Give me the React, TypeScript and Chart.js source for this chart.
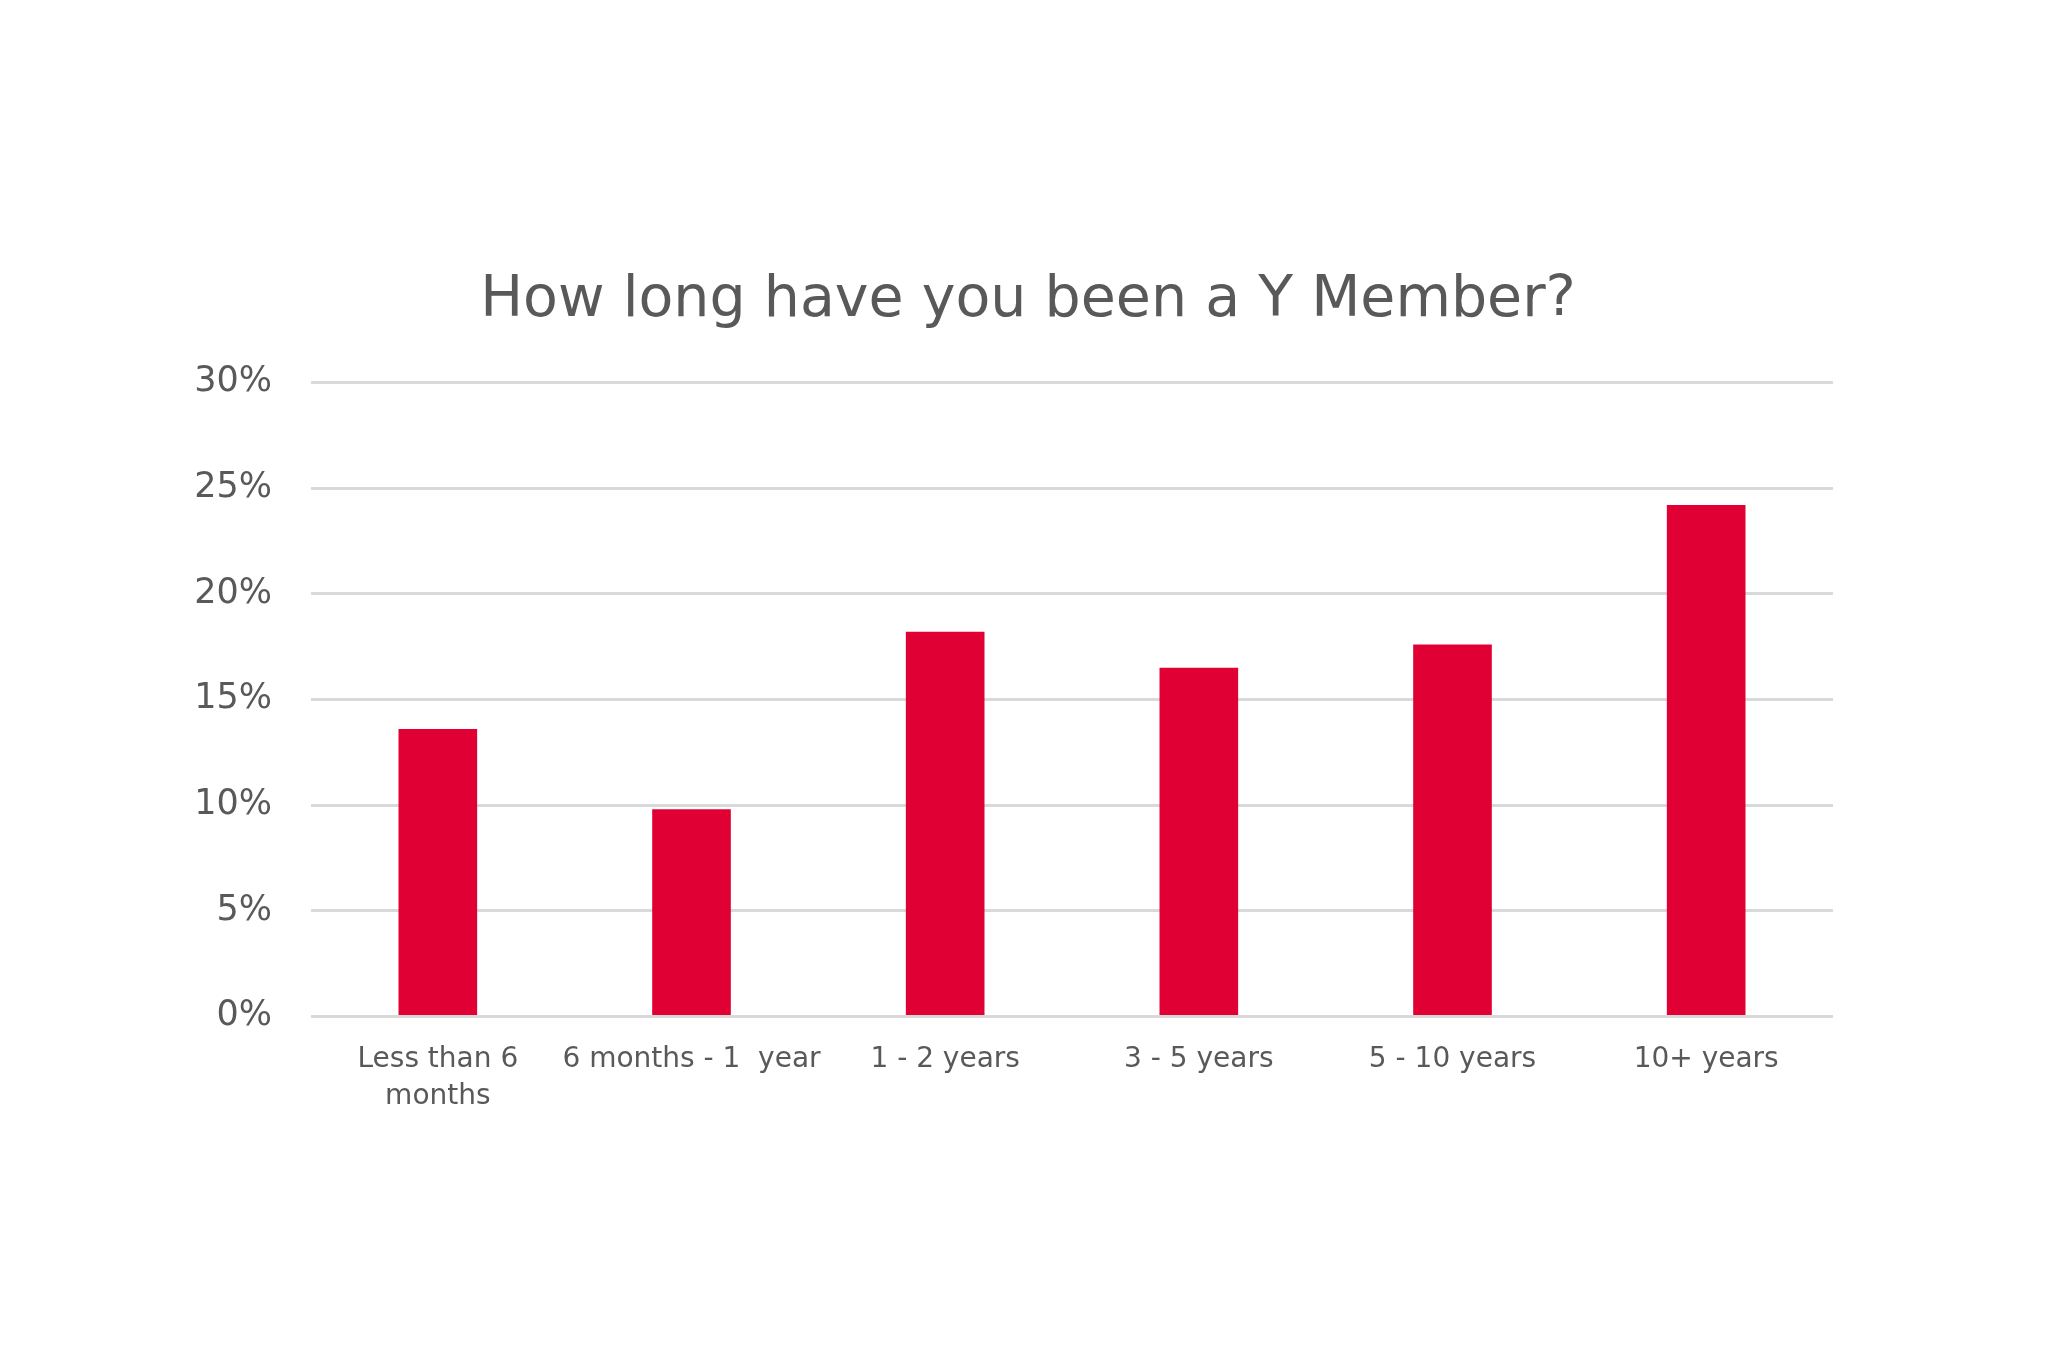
import React, { useEffect, useRef } from 'react';
import { Chart, registerables } from 'chart.js';

Chart.register(...registerables);

const categories: (string | string[])[] = [
  ['Less than 6', 'months'],
  '6 months - 1  year',
  '1 - 2 years',
  '3 - 5 years',
  '5 - 10 years',
  '10+ years'
];
const memberShare = [13.6, 9.8, 18.2, 16.5, 17.6, 24.2];
const yTicks = [0, 5, 10, 15, 20, 25, 30];

const FONT = '"DejaVu Sans", "Open Sans", sans-serif';
const TEXT = '#595959';

const App: React.FC = () => {
  const canvasRef = useRef<HTMLCanvasElement | null>(null);
  const chartRef = useRef<Chart | null>(null);

  useEffect(() => {
    document.body.style.margin = '0';
    if (!canvasRef.current) return;
    const ctx = canvasRef.current.getContext('2d');
    if (!ctx) return;

    chartRef.current = new Chart(ctx, {
      type: 'bar',
      data: {
        labels: categories,
        datasets: [
          {
            label: 'Members',
            data: memberShare,
            backgroundColor: '#E00034',
            borderWidth: 0,
            categoryPercentage: 1,
            barPercentage: 0.31
          }
        ]
      },
      options: {
        responsive: true,
        maintainAspectRatio: false,
        animation: false,
        layout: {
          padding: { top: 267, right: 187, bottom: 225, left: 195 }
        },
        plugins: {
          legend: { display: false },
          tooltip: { enabled: false },
          title: {
            display: true,
            text: 'How long have you been a Y Member?',
            color: TEXT,
            font: { family: FONT, size: 57, weight: 'normal' },
            padding: { top: 0, bottom: 47 }
          }
        },
        scales: {
          x: {
            grid: { display: false, drawTicks: false },
            border: { display: false },
            ticks: {
              color: TEXT,
              font: { family: FONT, size: 28, lineHeight: 1.35 },
              padding: 24,
              maxRotation: 0,
              autoSkip: false
            }
          },
          y: {
            min: 0,
            max: 30,
            afterBuildTicks: (axis) => {
              axis.ticks = yTicks.map((v) => ({ value: v }));
            },
            afterFit: (axis) => {
              axis.width = 116;
            },
            grid: {
              color: '#d9d9d9',
              lineWidth: 3,
              drawTicks: false
            },
            border: { display: false },
            ticks: {
              color: TEXT,
              font: { family: FONT, size: 35 },
              padding: 39,
              callback: (v) => `${v}%`
            }
          },
          // empty right-hand spacer so the title stays centred on the page
          yRight: {
            position: 'right',
            grid: { display: false, drawTicks: false },
            border: { display: false },
            ticks: { display: false },
            afterFit: (axis) => {
              axis.width = 28;
            }
          }
        }
      }
    });

    return () => {
      if (chartRef.current) {
        chartRef.current.destroy();
        chartRef.current = null;
      }
    };
  }, []);

  return (
    <div style={{ position: 'fixed', left: 0, top: 0, width: '2048px', height: '1365px', background: '#fff' }}>
      <canvas ref={canvasRef} />
    </div>
  );
};

export default App;
